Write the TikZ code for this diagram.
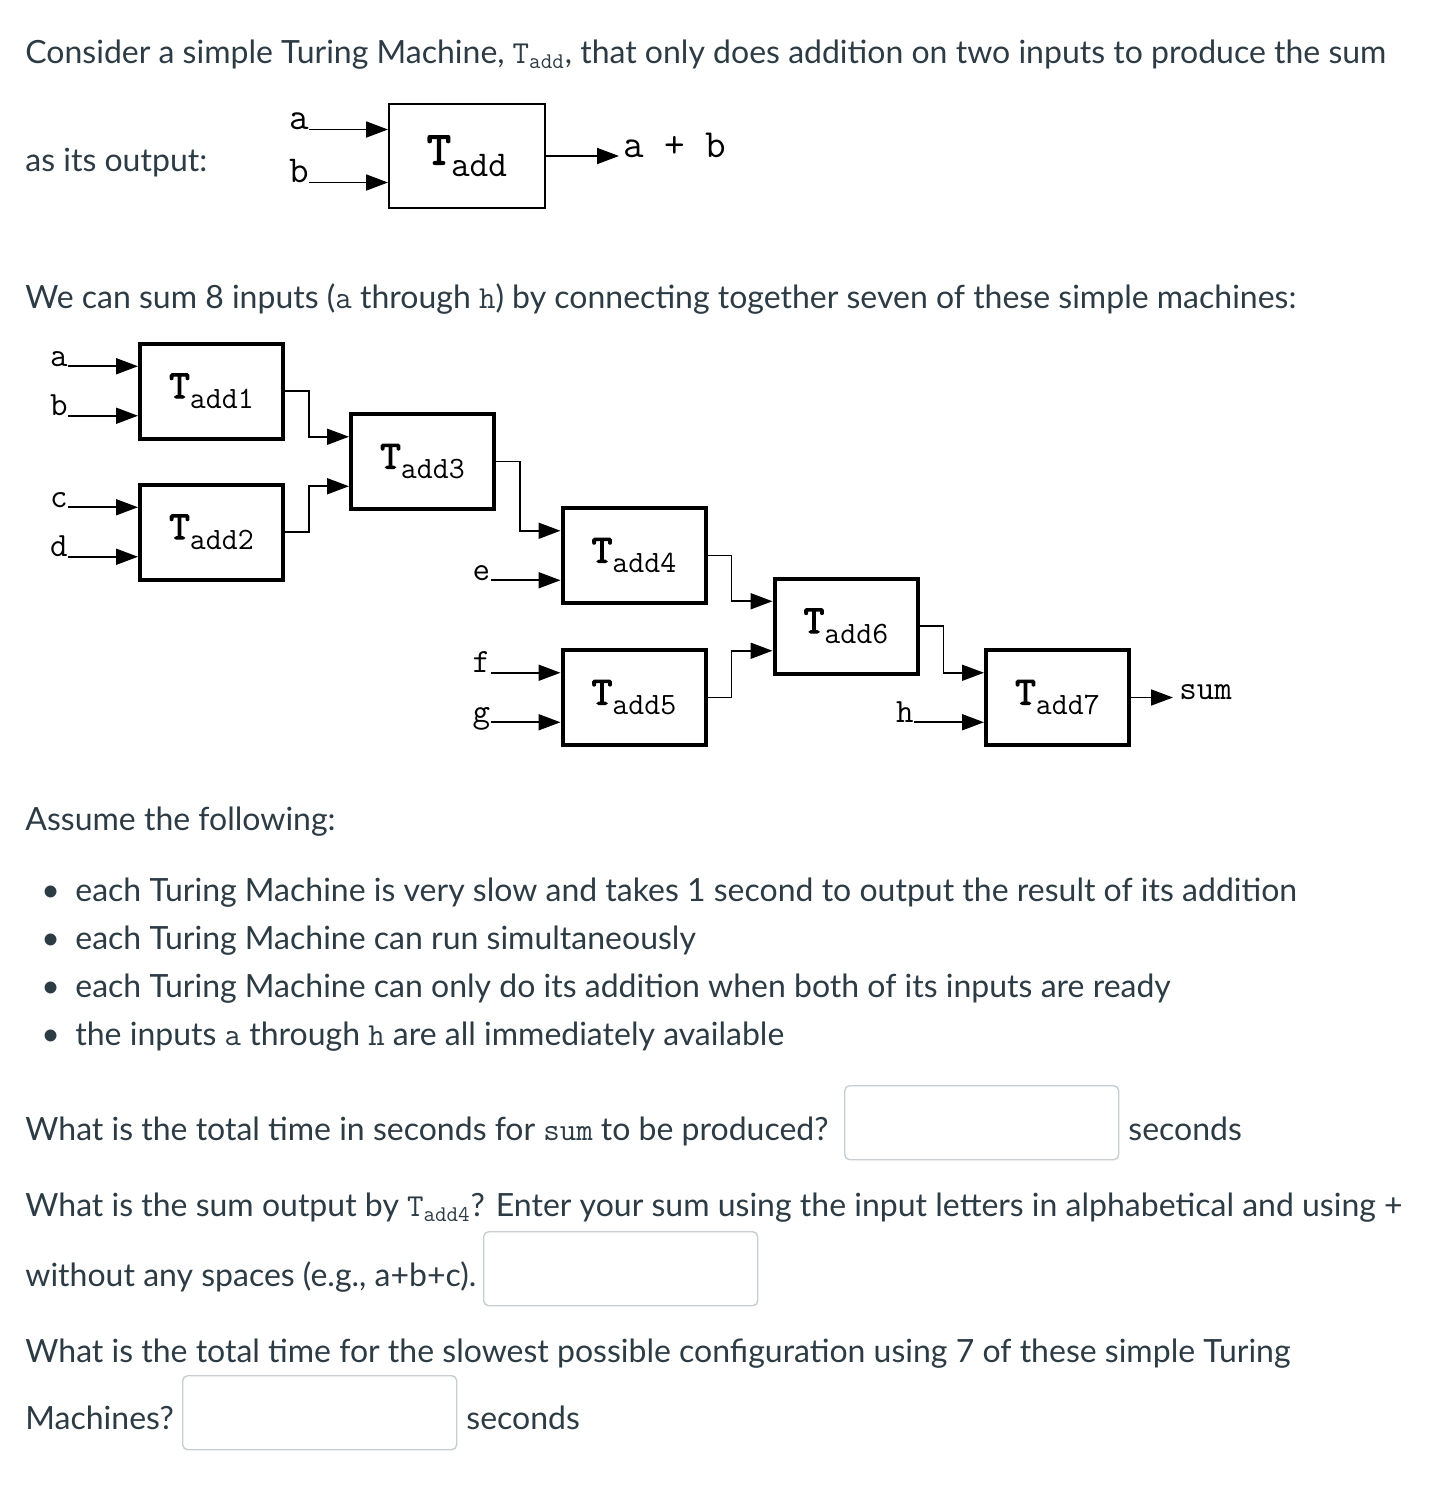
\documentclass[tikz,border=0pt]{standalone}
\usepackage{fontspec}
\setmainfont{Lato}
\setmonofont{Latin Modern Mono}
\newfontfamily\tmbold{Latin Modern Mono}[FakeBold=3]
\usepackage{xcolor}
\usetikzlibrary{arrows.meta,positioning,calc}

\definecolor{ink}{HTML}{2D3B45}
\definecolor{fieldline}{HTML}{C7CDD1}
\newcommand{\tmname}[1]{{\tmbold\fontsize{20}{20}\selectfont T}\raisebox{-5pt}{\ttfamily\fontsize{15.5}{15.5}\selectfont add#1}}

\begin{document}
\begin{tikzpicture}[x=0.5pt, y=-0.5pt,
    txt/.style={anchor=base west, inner sep=0pt, text=ink, font=\fontsize{16}{19}\selectfont},
    field/.style={draw=fieldline, line width=0.7pt, rounded corners=2.5pt, fill=white,
        minimum width=137pt, minimum height=37pt, anchor=north west},
    tm/.style={draw, line width=2pt, minimum width=71.5pt, minimum height=47.5pt, inner sep=0pt},
    inlbl/.style={anchor=base east, inner sep=0pt, font=\ttfamily\fontsize{17}{17}\selectfont},
    wire/.style={line width=0.9pt},
    arrow/.style={wire, -{Triangle[length=11pt, width=8pt]}}]

    \useasboundingbox (0,0) rectangle (1438,1512);

    % text above the pictures
    \node[txt] (intro) at (25,63) {Consider a simple Turing Machine, \texttt{T\textsubscript{add}}, that only does addition on two inputs to produce the sum};
    \node[txt] (intro2) at (25,171) {as its output:};

    % the single machine
    \node[tm, line width=1pt, minimum width=78pt, minimum height=52pt] (T) at (467,156) {\scalebox{1.17}{\tmname{}}};
    \node[inlbl, font=\ttfamily\fontsize{19}{19}\selectfont] (ta) at ($(T.north west)!.25!(T.south west)+(-79,0)$) {a};
    \node[inlbl, font=\ttfamily\fontsize{19}{19}\selectfont] (tb) at ($(T.north west)!.75!(T.south west)+(-79,0)$) {b};
    \coordinate[right=36.5pt of T.east] (tout);
    \node[anchor=base west, inner sep=0pt, font=\ttfamily\fontsize{20}{20}\selectfont] (tsum) at ($(tout)+(4,1)$) {a + b};
    \draw[arrow] (ta.base east) -- (ta.base east -| T.west);
    \draw[arrow] (tb.base east) -- (tb.base east -| T.west);
    \draw[arrow] (T.east) -- (tout);

    \node[txt] (chain) at (25,308) {We can sum 8 inputs (\texttt{a} through \texttt{h}) by connecting together seven of these simple machines:};

    % seven machines
    \node[tm] (T1) at (211.5,391) {\tmname{1}};
    \node[tm] (T2) at (211.5,532) {\tmname{2}};
    \node[tm] (T3) at (422.5,461.5) {\tmname{3}};
    \node[tm] (T4) at (634,555.5) {\tmname{4}};
    \node[tm] (T5) at (634,697.5) {\tmname{5}};
    \node[tm] (T6) at (846,626) {\tmname{6}};
    \node[tm] (T7) at (1057.5,697.5) {\tmname{7}};

    % inputs a to h
    \node[inlbl] (la) at ($(T1.north west)!.25!(T1.south west)+(-70,0)$) {a};
    \node[inlbl] (lb) at ($(T1.north west)!.75!(T1.south west)+(-70,0)$) {b};
    \node[inlbl] (lc) at ($(T2.north west)!.25!(T2.south west)+(-70,0)$) {c};
    \node[inlbl] (ld) at ($(T2.north west)!.75!(T2.south west)+(-70,0)$) {d};
    \node[inlbl] (le) at ($(T4.north west)!.75!(T4.south west)+(-70,0)$) {e};
    \node[inlbl] (lf) at ($(T5.north west)!.25!(T5.south west)+(-70,0)$) {f};
    \node[inlbl] (lg) at ($(T5.north west)!.75!(T5.south west)+(-70,0)$) {g};
    \node[inlbl] (lh) at ($(T7.north west)!.75!(T7.south west)+(-70,0)$) {h};
    \draw[arrow] (la.base east) -- (la.base east -| T1.west);
    \draw[arrow] (lb.base east) -- (lb.base east -| T1.west);
    \draw[arrow] (lc.base east) -- (lc.base east -| T2.west);
    \draw[arrow] (ld.base east) -- (ld.base east -| T2.west);
    \draw[arrow] (le.base east) -- (le.base east -| T4.west);
    \draw[arrow] (lf.base east) -- (lf.base east -| T5.west);
    \draw[arrow] (lg.base east) -- (lg.base east -| T5.west);
    \draw[arrow] (lh.base east) -- (lh.base east -| T7.west);

    % machine to machine
    \draw[arrow] (T1.east) -- ++(24,0) |- ($(T3.north west)!.25!(T3.south west)$);
    \draw[arrow] (T2.east) -- ++(24,0) |- ($(T3.north west)!.75!(T3.south west)$);
    \draw[arrow] (T3.east) -- ++(24,0) |- ($(T4.north west)!.25!(T4.south west)$);
    \draw[arrow] (T4.east) -- ++(24,0) |- ($(T6.north west)!.25!(T6.south west)$);
    \draw[arrow] (T5.east) -- ++(24,0) |- ($(T6.north west)!.75!(T6.south west)$);
    \draw[arrow] (T6.east) -- ++(24,0) |- ($(T7.north west)!.25!(T7.south west)$);
    \coordinate[right=21pt of T7.east] (out);
    \node[anchor=base west, inner sep=0pt, font=\ttfamily\fontsize{17}{17}\selectfont] (sum) at ($(out)+(6,2)$) {sum};
    \draw[arrow] (T7.east) -- (out);

    % assumptions
    \node[txt] (assume) at (25,830) {Assume the following:};
    \node[txt] (d1) at (41,901) {•};
    \node[txt] (b1) at (75,901) {each Turing Machine is very slow and takes 1 second to output the result of its addition};
    \node[txt] (d2) at (41,949) {•};
    \node[txt] (b2) at (75,949) {each Turing Machine can run simultaneously};
    \node[txt] (d3) at (41,997) {•};
    \node[txt] (b3) at (75,997) {each Turing Machine can only do its addition when both of its inputs are ready};
    \node[txt] (d4) at (41,1045) {•};
    \node[txt] (b4) at (75,1045) {the inputs \texttt{a} through \texttt{h} are all immediately available};

    % questions
    \node[txt] (q1) at (25,1140) {What is the total time in seconds for \texttt{sum} to be produced?};
    \node[field] (f1) at (844,1085) {};
    \node[txt] (s1) at (1128,1140) {seconds};
    \node[txt] (q2) at (25,1216) {What is the sum output by \texttt{T\textsubscript{add4}}? Enter your sum using the input letters in alphabetical and using +};
    \node[txt] (q2b) at (25,1286) {without any spaces (e.g., a+b+c).};
    \node[field] (f2) at (483,1231) {};
    \node[txt] (q3) at (25,1362) {What is the total time for the slowest possible configuration using 7 of these simple Turing};
    \node[txt] (q3b) at (25,1429) {Machines?};
    \node[field] (f3) at (182,1375) {};
    \node[txt] (s3) at (466,1429) {seconds};
\end{tikzpicture}
\end{document}
